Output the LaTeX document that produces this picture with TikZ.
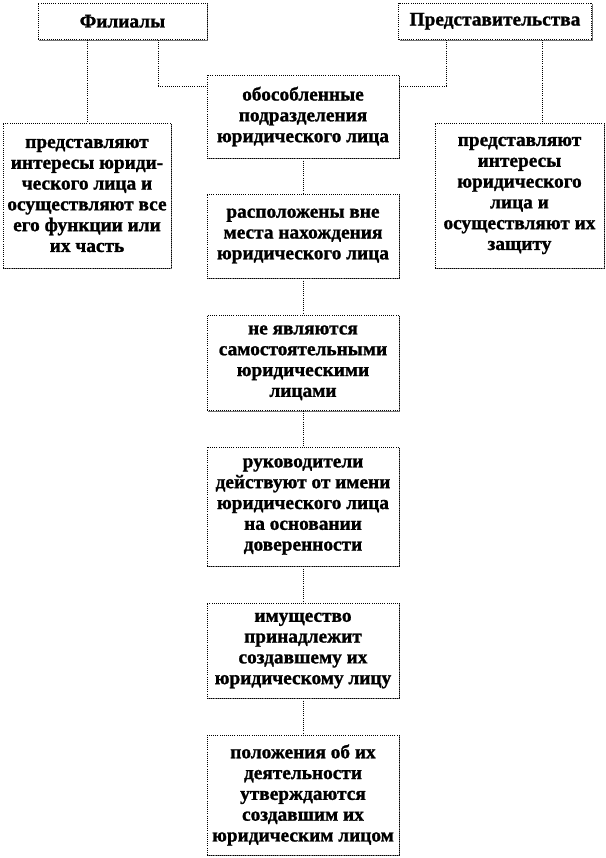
\documentclass[tikz,border=0pt]{standalone}
\usepackage{fontspec}
\setmainfont{Liberation Serif}[BoldFont={Liberation Serif Bold}, BoldFeatures={FakeBold=1.2}]
\usetikzlibrary{calc,shadows}
\begin{document}
\begin{tikzpicture}[x=0.75pt,y=-0.75pt,
  ubox/.style 2 args={draw=black, densely dotted, line width=0.6pt, fill=white,
    drop shadow={shadow xshift=1pt, shadow yshift=-1pt, fill=black!55, opacity=1},
    minimum width=#1*0.75pt, minimum height=#2*0.75pt, inner sep=0pt,
    align=center, font=\fontsize{14.5}{15.6}\selectfont\bfseries},
  link/.style={draw=black, densely dotted, line width=0.6pt}]
\useasboundingbox (0,0) rectangle (606,858);
\node[ubox={169}{36.5}] (fil) at (122.5,21.25) {Филиалы};
\node[ubox={193}{36.5}] (pred) at (495,21.25) {Представительства};
\node[ubox={192}{83}] (ob) at (303,116.5) {обособленные\\подразделения\\юридического лица};
\node[ubox={168}{145}] (left) at (87,195.5) {представляют\\интересы юриди-\\ческого лица и\\осуществляют все\\его функции или\\их часть};
\node[ubox={169}{145}] (right) at (519.5,195.5) {представляют\\интересы\\юридического\\лица и\\осуществляют их\\защиту};
\node[ubox={192}{84}] (b2) at (303,236) {расположены вне\\места нахождения\\юридического лица};
\node[ubox={192}{95.5}] (b3) at (303,362.75) {не являются\\самостоятельными\\юридическими\\лицами};
\node[ubox={192}{119}] (b4) at (303,506.5) {руководители\\действуют от имени\\юридического лица\\на основании\\доверенности};
\node[ubox={192}{95}] (b5) at (303,650.5) {имущество\\принадлежит\\создавшему их\\юридическому лицу};
\node[ubox={192}{120}] (b6) at (303,795) {положения об их\\деятельности\\утверждаются\\создавшим их\\юридическим лицом};
\draw[link] (fil.south -| left.north) -- (left.north);
\coordinate (fo) at ($(ob.west)+(0,-29.8)$);
\draw[link] ($(fil.south)+(35.5,0)$) |- (fo);
\coordinate (po) at ($(ob.east)+(0,-29.8)$);
\draw[link] ($(pred.south)+(-48.3,0)$) |- (po);
\coordinate (pr) at ($(right.north)+(23.2,0)$);
\draw[link] (pred.south -| pr) -- (pr);
\draw[link] (ob) -- (b2);
\draw[link] (b2) -- (b3);
\draw[link] (b3) -- (b4);
\draw[link] (b4) -- (b5);
\draw[link] (b5) -- (b6);
\end{tikzpicture}
\end{document}
